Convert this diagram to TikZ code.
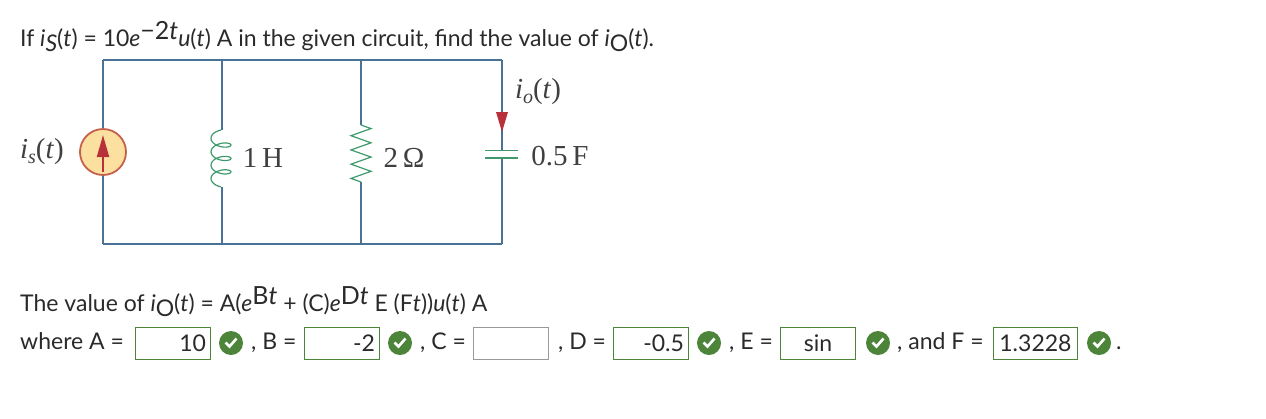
\documentclass[tikz,border=0pt]{standalone}
\usepackage{fontspec}
\setmainfont{Lato}
\newfontfamily\circuitfont{Liberation Serif}
\usepackage{xcolor}
\usetikzlibrary{arrows.meta,decorations.pathmorphing,positioning}
\definecolor{wirecol}{HTML}{4A7196}
\definecolor{partcol}{HTML}{3E9A6C}
\definecolor{tipcol}{HTML}{B8303A}
\definecolor{okcol}{HTML}{4C8439}
\definecolor{inkcol}{HTML}{2A2A2A}
\definecolor{srcfill}{HTML}{FBE0A0}
\definecolor{srcline}{HTML}{C4604C}
\newcommand{\lowered}[1]{\raisebox{-5pt}{#1}}
\newcommand{\raised}[1]{\raisebox{7pt}{\fontsize{25}{25}\selectfont #1}}
\begin{document}
\begin{tikzpicture}[x=1pt,y=-1pt]
% STYLES
\tikzset{%
    wire/.style={wirecol, line width=1.3pt},
    part/.style={partcol, line width=1.2pt},
    prose/.style={anchor=base west, inner sep=0pt, text=inkcol, font=\fontsize{23}{27}\selectfont},
    figtext/.style={inner sep=0pt, text=black!75, font=\circuitfont\fontsize{29}{33}\selectfont},
    answer/.style={draw=okcol, line width=0.9pt, minimum width=75pt, minimum height=32pt, inner sep=0pt, text=inkcol, font=\fontsize{23}{27}\selectfont},
    filled/.style={answer, text width=66pt, align=right},
    okmark/.style={circle, fill=okcol, minimum size=24pt, inner sep=0pt}
}
\useasboundingbox (0,0) rectangle (1266,418);

% Draw question text
\node [prose] (question) at (20,46) {If \textit{i}\lowered{\textit{S}}(\textit{t}) = 10\textit{e}\raised{−2\textit{t}}\textit{u}(\textit{t}) A in the given circuit, find the value of \textit{i}\lowered{O}(\textit{t}).};
\node [prose] (result) at (20,311) {The value of \textit{i}\lowered{O}(\textit{t}) = A(\textit{e}\raised{B\textit{t}} + (C)\textit{e}\raised{D\textit{t}} E (F\textit{t}))\textit{u}(\textit{t}) A};

% Draw corners and joints
\coordinate (srctop) at (103,60);
\coordinate (srcbot) at (103,244);
\coordinate (indtop) at (222,60);
\coordinate (indbot) at (222,244);
\coordinate (restop) at (361,60);
\coordinate (resbot) at (361,244);
\coordinate (captop) at (502,60);
\coordinate (capbot) at (502,244);
\coordinate (indup) at (222,130);
\coordinate (inddown) at (222,187);
\coordinate (resup) at (361,125);
\coordinate (resdown) at (361,182);
\coordinate (platea) at (502,150.5);
\coordinate (plateb) at (502,158);

% Draw source
\node [circle, draw=srcline, fill=srcfill, line width=1.8pt, minimum size=46pt, inner sep=0pt] (source) at (103,152) {};
\coordinate (stemtop) at (103,135);
\coordinate (stembot) at (103,172);
\draw [tipcol, line width=1.8pt, -{Triangle[length=22pt,width=12pt]}] (stembot) -- (stemtop);

% Draw the wires
\path [wire]
(srctop) edge (captop)
(srcbot) edge (capbot)
(srctop) edge (source)
(srcbot) edge (source)
(indtop) edge (indup)
(inddown) edge (indbot)
(restop) edge (resup)
(resdown) edge (resbot)
(captop) edge (platea)
(plateb) edge (capbot);

% Draw inductor, resistor and capacitor
\draw [part, shift={(indup)}] plot [smooth, domain=90:1350, samples=85] ({-1+10*cos(\x)},{(\x-90)/360*13.4-5*sin(\x)+5});
\draw [part, decorate, decoration={zigzag, amplitude=10pt, segment length=14.25pt}] (resup) -- (resdown);
\draw [part] ([xshift=-17pt]platea) -- ([xshift=16pt]platea);
\draw [part] ([xshift=-17pt]plateb) -- ([xshift=16pt]plateb);

% Draw current arrow
\coordinate (arrowtip) at (502,132);
\coordinate (arrowbase) at (502,112);
\fill [tipcol] ([xshift=-6pt]arrowbase) -- ([xshift=6pt]arrowbase) -- (arrowtip) -- cycle;

% Draw circuit labels
\node [figtext, left=15pt of source] (islabel) {\textit{i}\lowered{\fontsize{20}{20}\selectfont\textit{s}}(\textit{t})};
\node [figtext] (indlabel) at (263,158) {1\,H};
\node [figtext] (reslabel) at (404,158) {2\,Ω};
\node [figtext] (caplabel) at (560,156) {0.5\,F};
\node [figtext] (iolabel) at (538,92) {\textit{i}\lowered{\fontsize{20}{20}\selectfont\textit{o}}(\textit{t})};

% Draw answer row
\node [prose] (wherea) at (20,349) {where A =};
\node [filled, anchor=west] (boxa) at (135,343) {10};
\node [prose] (lblb) at (251,349) {, B =};
\node [filled, anchor=west] (boxb) at (304,343) {-2};
\node [prose] (lblc) at (420,349) {, C =};
\node [answer, anchor=west, draw=black!40] (boxc) at (473,343) {};
\node [prose] (lbld) at (558,349) {, D =};
\node [filled, anchor=west] (boxd) at (613,343) {-0.5};
\node [prose] (lble) at (729,349) {, E =};
\node [answer, anchor=west] (boxe) at (780,343) {sin};
\node [prose] (lblf) at (897,349) {, and F =};
\node [answer, anchor=west, minimum width=84pt] (boxf) at (993,343) {1.3228};
\node [prose] (lblend) at (1116,349) {.};

% Draw check marks
\foreach \mark/\xpos in {marka/231,markb/400,markd/709,marke/878,markf/1099} {
    \node [okmark] (\mark) at (\xpos,343) {};
    \draw [white, line width=2.6pt] ([shift={(-5.5,-0.5)}]\mark.center) -- ([shift={(-1.5,3.5)}]\mark.center) -- ([shift={(5.5,-4.5)}]\mark.center);
}
\end{tikzpicture}
\end{document}
